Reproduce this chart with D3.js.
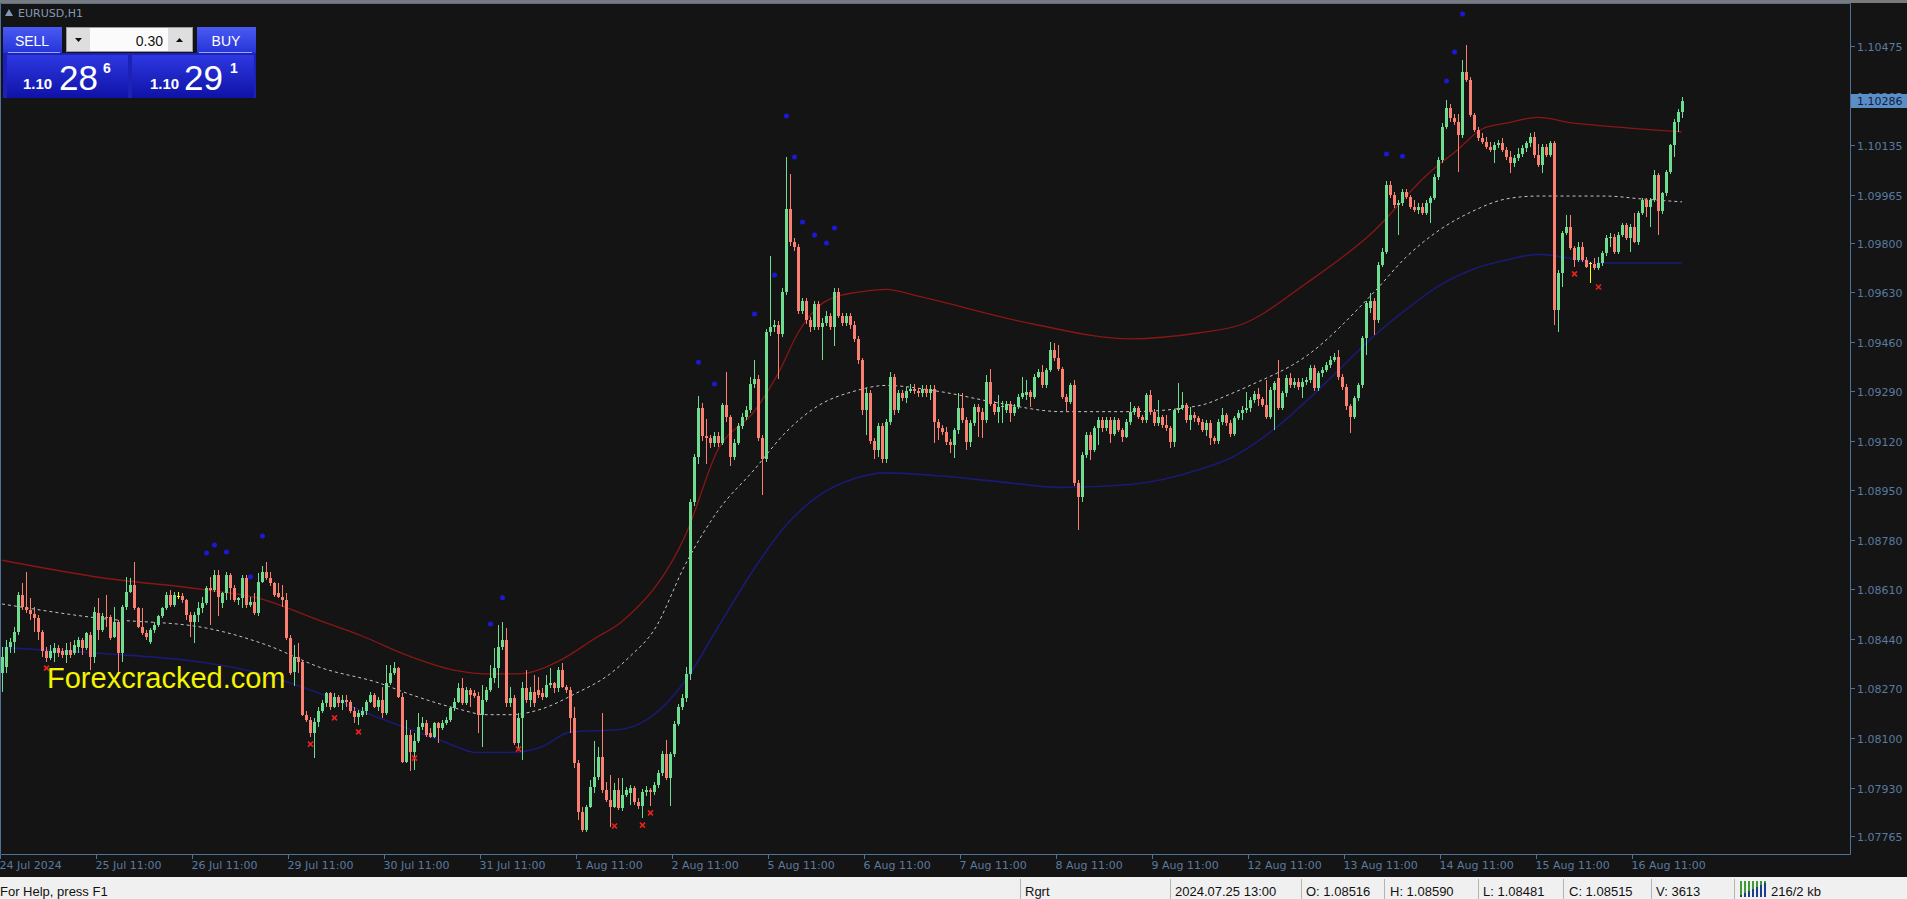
<!DOCTYPE html>
<html><head><meta charset="utf-8">
<script src="https://cdn.jsdelivr.net/npm/d3@7/dist/d3.min.js"></script>
<style>html,body{margin:0;padding:0;background:#141414;overflow:hidden}svg{display:block}</style>
</head><body><svg id="c" width="1907" height="899"></svg>
<script>
// ---------- DATA ----------
const symbolLabel = "EURUSD,H1";
const lotSize = "0.30";
const lastPrice = 1.10286;
const xTickLabels = ["24 Jul 2024","25 Jul 11:00","26 Jul 11:00","29 Jul 11:00","30 Jul 11:00","31 Jul 11:00","1 Aug 11:00","2 Aug 11:00","5 Aug 11:00","6 Aug 11:00","7 Aug 11:00","8 Aug 11:00","9 Aug 11:00","12 Aug 11:00","13 Aug 11:00","14 Aug 11:00","15 Aug 11:00","16 Aug 11:00"];
const xTickBars = [0,24,48,72,96,120,144,168,192,216,240,264,288,312,336,360,384,408];
const yTickValues = [1.10475,1.10305,1.10135,1.09965,1.09800,1.09630,1.09460,1.09290,1.09120,1.08950,1.08780,1.08610,1.08440,1.08270,1.08100,1.07930,1.07765];

const opens = [
1.08322,1.08345,1.08414,1.08431,1.08465,1.08591,1.08551,1.08539,1.08526,1.08511,
1.08465,1.08397,1.08374,1.08391,1.08408,1.08397,1.08385,1.08402,1.08391,1.08414,
1.08437,1.08408,1.08454,1.08379,1.08528,1.08471,1.08516,1.08514,1.08448,1.08499,
1.08391,1.08551,1.08602,1.08625,1.08545,1.08482,1.08462,1.08431,1.08471,1.08488,
1.08517,1.08545,1.08591,1.08557,1.08588,1.08588,1.08572,1.08522,1.08499,1.08522,
1.08545,1.08565,1.08614,1.08608,1.08660,1.08565,1.08597,1.08660,1.08614,1.08574,
1.08580,1.08648,1.08557,1.08568,1.08528,1.08637,1.08671,1.08648,1.08631,1.08597,
1.08585,1.08574,1.08442,1.08328,1.08379,1.08362,1.08179,1.08162,1.08116,1.08156,
1.08191,1.08219,1.08253,1.08208,1.08242,1.08219,1.08231,1.08225,1.08191,1.08173,
1.08179,1.08191,1.08225,1.08248,1.08208,1.08231,1.08185,1.08288,1.08322,1.08339,
1.08242,1.08019,1.08110,1.08053,1.08088,1.08139,1.08150,1.08116,1.08105,1.08150,
1.08133,1.08150,1.08162,1.08202,1.08225,1.08271,1.08219,1.08265,1.08253,1.08245,
1.08179,1.08231,1.08265,1.08305,1.08339,1.08414,1.08436,1.08219,1.08236,1.08082,
1.08168,1.08271,1.08231,1.08259,1.08265,1.08253,1.08242,1.08282,1.08288,1.08271,
1.08334,1.08276,1.08265,1.08168,1.08013,1.07847,1.07784,1.07864,1.07933,1.07967,
1.08036,1.07922,1.07887,1.07864,1.07922,1.07859,1.07905,1.07912,1.07930,1.07882,
1.07866,1.07914,1.07922,1.07914,1.07939,1.07979,1.08044,1.07963,1.08044,1.08149,
1.08206,1.08238,1.08319,1.08910,1.09064,1.09234,1.09137,1.09129,1.09113,1.09137,
1.09113,1.09243,1.09202,1.09064,1.09113,1.09170,1.09202,1.09226,1.09315,1.09332,
1.09129,1.09056,1.09494,1.09510,1.09518,1.09486,1.09631,1.09915,1.09801,1.09785,
1.09566,1.09599,1.09534,1.09510,1.09591,1.09510,1.09526,1.09550,1.09510,1.09631,
1.09550,1.09526,1.09550,1.09518,1.09469,1.09396,1.09226,1.09283,1.09121,1.09089,
1.09170,1.09056,1.09186,1.09340,1.09226,1.09283,1.09267,1.09291,1.09299,1.09291,
1.09283,1.09299,1.09283,1.09299,1.09185,1.09163,1.09151,1.09117,1.09105,1.09157,
1.09231,1.09191,1.09117,1.09180,1.09237,1.09220,1.09191,1.09323,1.09248,1.09220,
1.09237,1.09225,1.09245,1.09214,1.09237,1.09271,1.09277,1.09288,1.09271,1.09340,
1.09357,1.09311,1.09363,1.09431,1.09403,1.09368,1.09271,1.09254,1.09311,1.08974,
1.08928,1.09071,1.09140,1.09088,1.09163,1.09191,1.09163,1.09191,1.09145,1.09191,
1.09157,1.09134,1.09185,1.09220,1.09231,1.09203,1.09191,1.09277,1.09220,1.09180,
1.09203,1.09174,1.09163,1.09117,1.09225,1.09231,1.09243,1.09191,1.09208,1.09197,
1.09185,1.09157,1.09180,1.09128,1.09120,1.09185,1.09208,1.09180,1.09145,1.09197,
1.09214,1.09226,1.09232,1.09261,1.09279,1.09265,1.09243,1.09203,1.09295,1.09335,
1.09232,1.09283,1.09335,1.09312,1.09323,1.09306,1.09323,1.09329,1.09369,1.09300,
1.09352,1.09363,1.09380,1.09397,1.09409,1.09340,1.09306,1.09238,1.09203,1.09266,
1.09312,1.09472,1.09575,1.09600,1.09535,1.09724,1.09769,1.09998,1.09964,1.09929,
1.09935,1.09975,1.09958,1.09924,1.09912,1.09924,1.09901,1.09935,1.09952,1.10026,
1.10084,1.10198,1.10261,1.10227,1.10215,1.10170,1.10387,1.10358,1.10238,1.10187,
1.10158,1.10147,1.10130,1.10118,1.10135,1.10141,1.10118,1.10095,1.10072,1.10090,
1.10105,1.10124,1.10141,1.10164,1.10101,1.10067,1.10130,1.10101,1.10141,1.09569,
1.09695,1.09832,1.09855,1.09781,1.09741,1.09786,1.09741,1.09729,1.09727,1.09712,
1.09729,1.09764,1.09815,1.09821,1.09769,1.09826,1.09861,1.09815,1.09855,1.09804,
1.09901,1.09947,1.09924,1.09947,1.10032,1.09907,1.09969,1.10044,1.10135,1.10215,
1.10250];

const highs = [
1.08414,1.08437,1.08442,1.08482,1.08602,1.08631,1.08671,1.08580,1.08551,1.08522,
1.08471,1.08414,1.08420,1.08425,1.08420,1.08408,1.08425,1.08431,1.08437,1.08448,
1.08442,1.08465,1.08465,1.08551,1.08580,1.08528,1.08590,1.08522,1.08551,1.08505,
1.08557,1.08654,1.08648,1.08705,1.08551,1.08545,1.08471,1.08477,1.08499,1.08522,
1.08551,1.08602,1.08608,1.08602,1.08602,1.08597,1.08576,1.08534,1.08534,1.08568,
1.08585,1.08620,1.08654,1.08677,1.08677,1.08602,1.08671,1.08666,1.08625,1.08585,
1.08660,1.08660,1.08585,1.08597,1.08666,1.08689,1.08705,1.08671,1.08637,1.08631,
1.08625,1.08597,1.08454,1.08419,1.08425,1.08368,1.08191,1.08173,1.08168,1.08208,
1.08231,1.08259,1.08259,1.08253,1.08248,1.08248,1.08248,1.08231,1.08208,1.08196,
1.08208,1.08231,1.08259,1.08253,1.08242,1.08276,1.08351,1.08351,1.08362,1.08345,
1.08253,1.08162,1.08128,1.08116,1.08185,1.08173,1.08162,1.08133,1.08156,1.08156,
1.08162,1.08173,1.08208,1.08236,1.08288,1.08305,1.08276,1.08271,1.08265,1.08259,
1.08282,1.08276,1.08351,1.08408,1.08488,1.08499,1.08477,1.08276,1.08248,1.08185,
1.08293,1.08334,1.08276,1.08316,1.08311,1.08271,1.08316,1.08339,1.08293,1.08345,
1.08356,1.08282,1.08276,1.08208,1.08025,1.07864,1.07870,1.07956,1.08088,1.08070,
1.08185,1.07950,1.07973,1.07944,1.07962,1.07962,1.07933,1.07939,1.07935,1.07895,
1.07925,1.07935,1.07930,1.07950,1.07990,1.08055,1.08092,1.08052,1.08160,1.08215,
1.08250,1.08345,1.08920,1.09075,1.09275,1.09250,1.09194,1.09140,1.09150,1.09150,
1.09250,1.09356,1.09210,1.09125,1.09180,1.09215,1.09240,1.09340,1.09396,1.09345,
1.09140,1.09505,1.09753,1.09535,1.09530,1.09645,1.10093,1.10036,1.09815,1.09795,
1.09610,1.09610,1.09545,1.09600,1.09600,1.09540,1.09565,1.09560,1.09645,1.09645,
1.09560,1.09560,1.09560,1.09530,1.09480,1.09405,1.09300,1.09295,1.09130,1.09180,
1.09180,1.09195,1.09356,1.09350,1.09295,1.09295,1.09305,1.09315,1.09315,1.09300,
1.09310,1.09310,1.09310,1.09310,1.09195,1.09174,1.09168,1.09125,1.09165,1.09283,
1.09283,1.09200,1.09190,1.09245,1.09245,1.09231,1.09346,1.09368,1.09255,1.09277,
1.09255,1.09255,1.09255,1.09245,1.09280,1.09340,1.09328,1.09295,1.09350,1.09365,
1.09380,1.09370,1.09460,1.09454,1.09449,1.09375,1.09280,1.09320,1.09328,1.08985,
1.09080,1.09150,1.09150,1.09170,1.09200,1.09200,1.09200,1.09200,1.09200,1.09197,
1.09165,1.09195,1.09254,1.09240,1.09240,1.09210,1.09285,1.09294,1.09230,1.09260,
1.09210,1.09208,1.09170,1.09230,1.09317,1.09288,1.09250,1.09237,1.09220,1.09205,
1.09195,1.09190,1.09190,1.09135,1.09195,1.09231,1.09215,1.09190,1.09205,1.09225,
1.09240,1.09288,1.09270,1.09290,1.09300,1.09270,1.09330,1.09305,1.09325,1.09397,
1.09290,1.09345,1.09352,1.09335,1.09335,1.09335,1.09340,1.09380,1.09380,1.09360,
1.09375,1.09390,1.09410,1.09420,1.09430,1.09350,1.09315,1.09245,1.09275,1.09320,
1.09480,1.09600,1.09626,1.09610,1.09735,1.09780,1.10010,1.10010,1.09975,1.09945,
1.09985,1.09985,1.09965,1.09945,1.09935,1.09935,1.09945,1.09960,1.10035,1.10095,
1.10210,1.10290,1.10275,1.10240,1.10240,1.10427,1.10479,1.10370,1.10245,1.10198,
1.10175,1.10164,1.10145,1.10145,1.10152,1.10158,1.10130,1.10115,1.10100,1.10125,
1.10135,1.10150,1.10175,1.10180,1.10140,1.10140,1.10140,1.10150,1.10150,1.09705,
1.09840,1.09895,1.09895,1.09790,1.09804,1.09804,1.09752,1.09735,1.09746,1.09752,
1.09770,1.09825,1.09832,1.09830,1.09835,1.09866,1.09866,1.09865,1.09901,1.09910,
1.09955,1.09955,1.09955,1.10049,1.10040,1.09975,1.10050,1.10140,1.10225,1.10260,
1.10301];

const lows = [
1.08259,1.08322,1.08391,1.08391,1.08454,1.08539,1.08528,1.08505,1.08465,1.08437,
1.08379,1.08362,1.08368,1.08362,1.08379,1.08374,1.08356,1.08374,1.08385,1.08391,
1.08385,1.08402,1.08334,1.08356,1.08437,1.08465,1.08481,1.08437,1.08442,1.08322,
1.08362,1.08539,1.08597,1.08539,1.08477,1.08454,1.08437,1.08423,1.08459,1.08482,
1.08511,1.08539,1.08551,1.08551,1.08576,1.08562,1.08505,1.08448,1.08425,1.08499,
1.08528,1.08557,1.08488,1.08602,1.08517,1.08545,1.08574,1.08574,1.08568,1.08557,
1.08545,1.08545,1.08551,1.08522,1.08517,1.08631,1.08643,1.08620,1.08585,1.08580,
1.08551,1.08437,1.08316,1.08277,1.08322,1.08174,1.08156,1.08105,1.08030,1.08139,
1.08185,1.08208,1.08196,1.08202,1.08208,1.08196,1.08208,1.08185,1.08150,1.08145,
1.08173,1.08179,1.08219,1.08202,1.08191,1.08168,1.08179,1.08282,1.08316,1.08236,
1.08013,1.08013,1.07985,1.07990,1.08082,1.08128,1.08105,1.08099,1.08100,1.08082,
1.08128,1.08145,1.08156,1.08191,1.08219,1.08213,1.08213,1.08208,1.08236,1.08116,
1.08070,1.08225,1.08259,1.08288,1.08271,1.08402,1.08208,1.08208,1.08076,1.08059,
1.08025,1.08219,1.08208,1.08208,1.08236,1.08231,1.08236,1.08271,1.08253,1.08259,
1.08271,1.08253,1.08116,1.07996,1.07819,1.07779,1.07779,1.07859,1.07910,1.07956,
1.07910,1.07882,1.07796,1.07859,1.07853,1.07850,1.07899,1.07870,1.07870,1.07855,
1.07825,1.07900,1.07866,1.07905,1.07930,1.07970,1.07955,1.07866,1.08035,1.08140,
1.08195,1.08225,1.08300,1.08895,1.09040,1.09120,1.09040,1.09095,1.09100,1.09100,
1.09105,1.09186,1.09032,1.09055,1.09105,1.09160,1.09190,1.09215,1.09300,1.09120,
1.08935,1.09048,1.09480,1.09495,1.09332,1.09475,1.09620,1.09790,1.09770,1.09555,
1.09555,1.09520,1.09495,1.09500,1.09500,1.09396,1.09515,1.09500,1.09445,1.09540,
1.09515,1.09515,1.09505,1.09460,1.09385,1.09210,1.09140,1.09110,1.09056,1.09064,
1.09045,1.09045,1.09175,1.09210,1.09215,1.09255,1.09250,1.09285,1.09280,1.09270,
1.09270,1.09270,1.09260,1.09111,1.09122,1.09140,1.09105,1.09077,1.09060,1.09145,
1.09180,1.09088,1.09100,1.09170,1.09134,1.09128,1.09180,1.09240,1.09210,1.09180,
1.09180,1.09215,1.09185,1.09205,1.09230,1.09265,1.09260,1.09237,1.09265,1.09335,
1.09300,1.09300,1.09355,1.09395,1.09360,1.09265,1.09220,1.09245,1.08965,1.08814,
1.08911,1.09060,1.09054,1.09080,1.09105,1.09150,1.09155,1.09111,1.09135,1.09150,
1.09117,1.09128,1.09175,1.09210,1.09195,1.09180,1.09180,1.09210,1.09170,1.09170,
1.09165,1.09155,1.09094,1.09100,1.09215,1.09225,1.09180,1.09157,1.09185,1.09175,
1.09150,1.09135,1.09105,1.09110,1.09110,1.09175,1.09170,1.09134,1.09135,1.09190,
1.09192,1.09215,1.09220,1.09250,1.09240,1.09235,1.09195,1.09195,1.09157,1.09225,
1.09226,1.09270,1.09300,1.09300,1.09295,1.09266,1.09310,1.09320,1.09290,1.09290,
1.09340,1.09355,1.09370,1.09390,1.09330,1.09295,1.09225,1.09146,1.09195,1.09255,
1.09300,1.09415,1.09560,1.09483,1.09525,1.09715,1.09760,1.09955,1.09920,1.09827,
1.09925,1.09950,1.09915,1.09905,1.09900,1.09895,1.09895,1.09867,1.09945,1.10015,
1.10075,1.10190,1.10215,1.10205,1.10044,1.10160,1.10350,1.10230,1.10180,1.10150,
1.10140,1.10120,1.10110,1.10072,1.10125,1.10110,1.10085,1.10038,1.10060,1.10080,
1.10095,1.10110,1.10130,1.10090,1.10060,1.10038,1.10095,1.10095,1.09518,1.09495,
1.09649,1.09825,1.09775,1.09718,1.09735,1.09735,1.09712,1.09663,1.09705,1.09705,
1.09720,1.09755,1.09786,1.09760,1.09760,1.09820,1.09810,1.09769,1.09798,1.09792,
1.09895,1.09889,1.09855,1.09940,1.09826,1.09900,1.09960,1.10035,1.10095,1.10181,
1.10227];

const closes = [
1.08379,1.08414,1.08431,1.08465,1.08591,1.08551,1.08539,1.08526,1.08511,1.08465,
1.08397,1.08374,1.08397,1.08408,1.08391,1.08385,1.08402,1.08385,1.08419,1.08437,
1.08408,1.08459,1.08379,1.08534,1.08471,1.08517,1.08515,1.08442,1.08499,1.08391,
1.08551,1.08602,1.08625,1.08545,1.08482,1.08462,1.08448,1.08471,1.08488,1.08517,
1.08545,1.08591,1.08557,1.08591,1.08588,1.08572,1.08522,1.08499,1.08522,1.08545,
1.08565,1.08614,1.08608,1.08660,1.08585,1.08597,1.08660,1.08614,1.08574,1.08580,
1.08648,1.08557,1.08568,1.08528,1.08637,1.08671,1.08648,1.08631,1.08591,1.08585,
1.08574,1.08442,1.08322,1.08379,1.08362,1.08179,1.08162,1.08116,1.08156,1.08191,
1.08219,1.08253,1.08208,1.08242,1.08219,1.08231,1.08225,1.08191,1.08173,1.08185,
1.08191,1.08225,1.08248,1.08208,1.08231,1.08185,1.08288,1.08322,1.08339,1.08242,
1.08019,1.08110,1.08053,1.08088,1.08139,1.08150,1.08110,1.08105,1.08150,1.08133,
1.08150,1.08162,1.08202,1.08225,1.08271,1.08219,1.08265,1.08248,1.08245,1.08179,
1.08231,1.08265,1.08305,1.08339,1.08414,1.08436,1.08219,1.08236,1.08082,1.08168,
1.08271,1.08231,1.08259,1.08219,1.08248,1.08242,1.08282,1.08288,1.08271,1.08334,
1.08276,1.08265,1.08168,1.08013,1.07847,1.07784,1.07864,1.07933,1.07967,1.08036,
1.07922,1.07887,1.07864,1.07922,1.07859,1.07905,1.07922,1.07930,1.07882,1.07866,
1.07914,1.07922,1.07914,1.07939,1.07979,1.08044,1.07963,1.08044,1.08149,1.08206,
1.08238,1.08319,1.08910,1.09064,1.09234,1.09137,1.09129,1.09113,1.09137,1.09113,
1.09243,1.09202,1.09064,1.09113,1.09170,1.09202,1.09226,1.09315,1.09332,1.09129,
1.09056,1.09494,1.09510,1.09518,1.09486,1.09631,1.09915,1.09801,1.09785,1.09566,
1.09599,1.09534,1.09510,1.09591,1.09510,1.09526,1.09550,1.09510,1.09631,1.09550,
1.09526,1.09550,1.09518,1.09469,1.09396,1.09226,1.09283,1.09121,1.09089,1.09170,
1.09056,1.09186,1.09340,1.09226,1.09283,1.09267,1.09291,1.09299,1.09291,1.09283,
1.09299,1.09283,1.09299,1.09185,1.09163,1.09151,1.09117,1.09105,1.09157,1.09231,
1.09191,1.09117,1.09180,1.09237,1.09220,1.09191,1.09323,1.09248,1.09220,1.09237,
1.09240,1.09245,1.09214,1.09237,1.09271,1.09283,1.09288,1.09271,1.09340,1.09357,
1.09311,1.09363,1.09431,1.09403,1.09368,1.09271,1.09254,1.09311,1.08974,1.08928,
1.09071,1.09140,1.09088,1.09163,1.09191,1.09163,1.09191,1.09145,1.09191,1.09157,
1.09134,1.09185,1.09220,1.09231,1.09203,1.09191,1.09277,1.09220,1.09180,1.09203,
1.09174,1.09163,1.09117,1.09225,1.09231,1.09243,1.09191,1.09208,1.09197,1.09185,
1.09157,1.09180,1.09128,1.09120,1.09185,1.09208,1.09180,1.09145,1.09197,1.09214,
1.09226,1.09232,1.09261,1.09279,1.09265,1.09243,1.09203,1.09295,1.09317,1.09232,
1.09283,1.09335,1.09312,1.09323,1.09306,1.09323,1.09329,1.09369,1.09300,1.09352,
1.09363,1.09380,1.09397,1.09409,1.09340,1.09306,1.09238,1.09203,1.09266,1.09312,
1.09472,1.09592,1.09600,1.09535,1.09724,1.09769,1.09998,1.09964,1.09929,1.09935,
1.09975,1.09958,1.09924,1.09912,1.09924,1.09901,1.09935,1.09952,1.10026,1.10084,
1.10198,1.10261,1.10227,1.10215,1.10170,1.10387,1.10358,1.10238,1.10187,1.10158,
1.10147,1.10130,1.10118,1.10135,1.10141,1.10118,1.10095,1.10072,1.10090,1.10105,
1.10124,1.10141,1.10164,1.10101,1.10067,1.10130,1.10101,1.10141,1.09569,1.09695,
1.09832,1.09855,1.09781,1.09741,1.09786,1.09741,1.09718,1.09729,1.09712,1.09729,
1.09764,1.09815,1.09821,1.09769,1.09826,1.09861,1.09815,1.09855,1.09804,1.09901,
1.09947,1.09924,1.09947,1.10032,1.09907,1.09969,1.10044,1.10135,1.10215,1.10250,
1.10286];

// band indicator: [bar index, price]
const upperBand = [[0,1.0871],[25,1.0865],[50,1.0861],[64,1.0858],[80,1.0850],[90,1.0845],[102,1.0838],[114,1.0833],[121,1.0832],[129,1.0832],[140,1.0837],[148,1.0844],[155,1.0850],[171,1.0880],[179,1.0909],[188,1.0922],[194,1.0935],[199,1.0949],[204,1.0958],[210,1.0962],[214,1.0963],[221,1.0964],[228,1.0962],[234,1.0960],[258,1.0952],[282,1.0947],[299,1.0949],[310,1.0952],[326,1.0966],[343,1.0984],[356,1.1003],[364,1.1012],[370,1.1019],[376,1.1021],[384,1.1023],[393,1.1021],[401,1.1020],[410,1.1019],[420,1.1018]];
const middleBand = [[0,1.0856],[25,1.0851],[50,1.0848],[66,1.0842],[80,1.0834],[94,1.0829],[102,1.0825],[114,1.0820],[121,1.0818],[127,1.0818],[135,1.0820],[143,1.0825],[152,1.0832],[157,1.0838],[163,1.0847],[171,1.0870],[179,1.0888],[188,1.0902],[196,1.0915],[204,1.0924],[213,1.0929],[221,1.0931],[234,1.0929],[249,1.0925],[265,1.0922],[282,1.0922],[299,1.0924],[307,1.0928],[312,1.0931],[326,1.0941],[343,1.0963],[351,1.0975],[359,1.0984],[368,1.0991],[376,1.0995],[384,1.0996],[401,1.0996],[410,1.0995],[420,1.0994]];
const lowerBand = [[0,1.0841],[25,1.0839],[50,1.0836],[62,1.0833],[80,1.0825],[94,1.0817],[102,1.0813],[110,1.0809],[119,1.0805],[127,1.0805],[135,1.0807],[142,1.0812],[155,1.0813],[163,1.0818],[171,1.0830],[179,1.0848],[188,1.0868],[196,1.0883],[204,1.0893],[213,1.0899],[221,1.0901],[234,1.0900],[249,1.0898],[265,1.0896],[282,1.0897],[299,1.0902],[307,1.0906],[312,1.0910],[318,1.0916],[334,1.0936],[343,1.0948],[351,1.0957],[359,1.0965],[368,1.0971],[376,1.0974],[384,1.0976],[401,1.0973],[420,1.0973]];

// signal marks: [bar index, price]
const sellSignals = [[51,1.08735],[53,1.08762],[56,1.08738],[62,1.08653],[65,1.08793],[122,1.08491],[125,1.08581],[174,1.09390],[178,1.09315],[188,1.09555],[193,1.09689],[196,1.10235],[198,1.10094],[200,1.09871],[203,1.09826],[206,1.09799],[208,1.09850],[346,1.10104],[350,1.10097],[361,1.10355],[363,1.10454],[365,1.10585]];
const buySignals = [[11,1.08340],[77,1.08079],[83,1.08169],[89,1.08121],[103,1.08031],[129,1.08062],[153,1.07798],[160,1.07801],[162,1.07843],[393,1.09693],[399,1.09648]];

const statusTexts = [["For Help, press F1",0],["Rgrt",1025],["2024.07.25 13:00",1175],["O: 1.08516",1306],["H: 1.08590",1390],["L: 1.08481",1483],["C: 1.08515",1569],["V: 3613",1656],["216/2 kb",1771]];
const statusSeparators = [1020,1170,1301,1384,1478,1563,1651,1734];

// ---------- DRAW ----------
const svg = d3.select("#c");
const W = 1907, H = 899;
const plot = {left: 0.5, right: 1850.5, top: 3.5, bottom: 854.5};
const axisColor = "#4f7196", labelColor = "#5a7aa0";
const upColor = "#6fdc92", downColor = "#fa8072", dojiColor = "#ffff00";

const x = d3.scaleLinear().domain([0, 462]).range([2, 1850]);
const y = d3.scaleLinear().domain([1.07765, 1.10475]).range([835.6, 46]);
const yl = Math.round(y(lastPrice));

svg.append("rect").attr("width", W).attr("height", H).attr("fill", "#141414");
svg.append("rect").attr("x",0).attr("y",0).attr("width",W).attr("height",3).attr("fill","#7a7a7a");

const defs = svg.append("defs");
defs.append("clipPath").attr("id","plotclip").append("rect")
  .attr("x",1).attr("y",4).attr("width",1849).attr("height",850);
defs.append("clipPath").attr("id","abovebox").append("rect")
  .attr("x",1851).attr("y",0).attr("width",56).attr("height",yl-7);
const gb = defs.append("linearGradient").attr("id","btn").attr("x1",0).attr("y1",0).attr("x2",0).attr("y2",1);
gb.append("stop").attr("offset","0%").attr("stop-color","#4a5bf2");
gb.append("stop").attr("offset","100%").attr("stop-color","#2534d8");
const gp = defs.append("linearGradient").attr("id","pricegrad").attr("x1",0).attr("y1",0).attr("x2",0).attr("y2",1);
gp.append("stop").attr("offset","0%").attr("stop-color","#2d38e2");
gp.append("stop").attr("offset","100%").attr("stop-color","#0f12a6");

// frame
svg.append("path")
  .attr("d", `M${plot.left},${plot.bottom}V${plot.top}H${plot.right}V${plot.bottom}H${plot.left}`)
  .attr("fill","none").attr("stroke", axisColor).attr("stroke-width",1);

const gPlot = svg.append("g").attr("clip-path","url(#plotclip)");

// bands (behind candles)
const lineGen = d3.line().x(d => x(d[0])).y(d => y(d[1])).curve(d3.curveMonotoneX);
gPlot.append("path").datum(upperBand).attr("d", lineGen).attr("fill","none").attr("stroke","#8a1616").attr("stroke-width",1.3);
gPlot.append("path").datum(middleBand).attr("d", lineGen).attr("fill","none").attr("stroke","#c4c4c4").attr("stroke-width",1).attr("stroke-dasharray","3,3");
gPlot.append("path").datum(lowerBand).attr("d", lineGen).attr("fill","none").attr("stroke","#1a1a72").attr("stroke-width",1.6);

// candles
const n = Math.min(opens.length, highs.length, lows.length, closes.length);
const bars = d3.range(n).map(i => ({i, o: opens[i], h: highs[i], l: lows[i], c: closes[i]}));
const col = d => d.c > d.o ? upColor : (d.c < d.o ? downColor : dojiColor);
const gC = gPlot.append("g").attr("shape-rendering","crispEdges");
gC.selectAll("rect.w").data(bars).join("rect").attr("class","w")
  .attr("x", d => Math.round(x(d.i)))
  .attr("y", d => Math.round(y(d.h)))
  .attr("width", 1)
  .attr("height", d => Math.max(1, Math.round(y(d.l)) - Math.round(y(d.h))))
  .attr("fill", col);
gC.selectAll("rect.b").data(bars).join("rect").attr("class","b")
  .attr("x", d => Math.round(x(d.i)) - 1)
  .attr("y", d => Math.round(y(Math.max(d.o, d.c))))
  .attr("width", 3)
  .attr("height", d => Math.max(1, Math.round(y(Math.min(d.o, d.c))) - Math.round(y(Math.max(d.o, d.c)))))
  .attr("fill", col);

// signals
gPlot.selectAll("circle.sig").data(sellSignals).join("circle").attr("class","sig")
  .attr("cx", d => x(d[0]) + 0.5).attr("cy", d => y(d[1])).attr("r", 2.5).attr("fill", "#1a1ad6");
const gx = gPlot.append("g");
buySignals.forEach(d => {
  const cx = x(d[0]) + 0.5, cy = y(d[1]);
  gx.append("path").attr("d", `M${cx-2.5},${cy-2.5}L${cx+2.5},${cy+2.5}M${cx+2.5},${cy-2.5}L${cx-2.5},${cy+2.5}`)
    .attr("stroke","#e8231d").attr("stroke-width",1.6);
});

// watermark
svg.append("text").attr("x",47).attr("y",688).attr("font-family","Liberation Sans, Arial, sans-serif")
  .attr("font-size",29).attr("fill","#f4f400").text("Forexcracked.com");

// y axis
const gy = svg.append("g").attr("font-family","DejaVu Sans, sans-serif").attr("font-size",11);
yTickValues.forEach(v => {
  const yy = Math.round(y(v)) + 0.5;
  gy.append("line").attr("x1",1851).attr("x2",1855).attr("y1",yy).attr("y2",yy).attr("stroke",axisColor);
  const t = gy.append("text").attr("x",1857).attr("y",yy+4).attr("fill",labelColor).text(v.toFixed(5));
  if (Math.abs(yy - yl) < 14) t.attr("clip-path","url(#abovebox)");
});
gy.append("rect").attr("x",1851).attr("y",yl-7).attr("width",56).attr("height",14).attr("fill","#5b8ec7");
gy.append("text").attr("x",1857).attr("y",yl+4).attr("fill","#10203c").text(lastPrice.toFixed(5));

// x axis
const gxA = svg.append("g").attr("font-family","DejaVu Sans, sans-serif").attr("font-size",11);
xTickBars.forEach((b, k) => {
  const tx = Math.round(x(b)) - 1.5;
  gxA.append("line").attr("x1",tx).attr("x2",tx).attr("y1",855).attr("y2",859).attr("stroke",axisColor);
  gxA.append("text").attr("x",tx - 1).attr("y",869).attr("fill",labelColor).text(xTickLabels[k]);
});

// header
svg.append("path").attr("d","M5,16L9,9L13,16Z").attr("fill","#8299b8");
svg.append("text").attr("x",18).attr("y",17).attr("font-family","DejaVu Sans, sans-serif").attr("font-size",11)
  .attr("fill","#8299b8").text(symbolLabel);

// one-click trading panel
const gT = svg.append("g").attr("font-family","Liberation Sans, Arial, sans-serif");
gT.append("rect").attr("x",3).attr("y",53).attr("width",253).attr("height",45).attr("fill","#1c22b6");
gT.append("rect").attr("x",3).attr("y",27).attr("width",59).attr("height",26).attr("fill","url(#btn)");
gT.append("rect").attr("x",197).attr("y",27).attr("width",59).attr("height",26).attr("fill","url(#btn)");
gT.append("line").attr("x1",8).attr("x2",60).attr("y1",52.5).attr("y2",52.5).attr("stroke","#98a8ff");
gT.append("line").attr("x1",199).attr("x2",252).attr("y1",52.5).attr("y2",52.5).attr("stroke","#98a8ff");
gT.append("text").attr("x",32).attr("y",46).attr("text-anchor","middle").attr("font-size",14).attr("fill","#fff").text("SELL");
gT.append("text").attr("x",226).attr("y",46).attr("text-anchor","middle").attr("font-size",14).attr("fill","#fff").text("BUY");
gT.append("rect").attr("x",66.5).attr("y",27.5).attr("width",126).attr("height",24).attr("fill","#fbfbfb").attr("stroke","#9a9a9a");
gT.append("rect").attr("x",67).attr("y",28).attr("width",23).attr("height",23).attr("fill","#dedede");
gT.append("rect").attr("x",168).attr("y",28).attr("width",24).attr("height",23).attr("fill","#dedede");
gT.append("path").attr("d","M75,38H82L78.5,42Z").attr("fill","#111");
gT.append("path").attr("d","M176,42H183L179.5,38Z").attr("fill","#111");
gT.append("text").attr("x",163).attr("y",46).attr("text-anchor","end").attr("font-size",14).attr("fill","#111").text(lotSize);
gT.append("rect").attr("x",7).attr("y",55).attr("width",121).attr("height",43).attr("fill","url(#pricegrad)");
gT.append("rect").attr("x",132).attr("y",55).attr("width",122).attr("height",43).attr("fill","url(#pricegrad)");
const bidStr = "1.10286", askStr = "1.10291";
[[bidStr, 23, 59, 103],[askStr, 150, 184, 230]].forEach(([s, x1, x2, x3]) => {
  gT.append("text").attr("x",x1).attr("y",89).attr("font-size",15).attr("font-weight","bold").attr("fill","#fff").text(s.slice(0,4));
  gT.append("text").attr("x",x2).attr("y",90).attr("font-size",35).attr("fill","#fff").text(s.slice(4,6));
  gT.append("text").attr("x",x3).attr("y",73).attr("font-size",14).attr("font-weight","bold").attr("fill","#fff").text(s.slice(6));
});

// status bar
const gS = svg.append("g").attr("font-family","Liberation Sans, Arial, sans-serif").attr("font-size",13);
gS.append("rect").attr("x",0).attr("y",877).attr("width",W).attr("height",22).attr("fill","#f0f0f0");
statusSeparators.forEach(sx => gS.append("line").attr("x1",sx+0.5).attr("x2",sx+0.5).attr("y1",879).attr("y2",899).attr("stroke","#b4b4b4"));
statusTexts.forEach(([t, sx]) => gS.append("text").attr("x",sx).attr("y",896).attr("fill","#111").text(t));
// connection icon
for (let k = 0; k < 7; k++) {
  const bx = 1740 + k * 4;
  gS.append("rect").attr("x",bx).attr("y",881).attr("width",2).attr("height",16).attr("fill","#3d9a35");
  gS.append("rect").attr("x",bx).attr("y",897 - (k + 1) * 2).attr("width",2).attr("height",(k + 1) * 2).attr("fill","#1d3f8a");
}
</script>
</body></html>
